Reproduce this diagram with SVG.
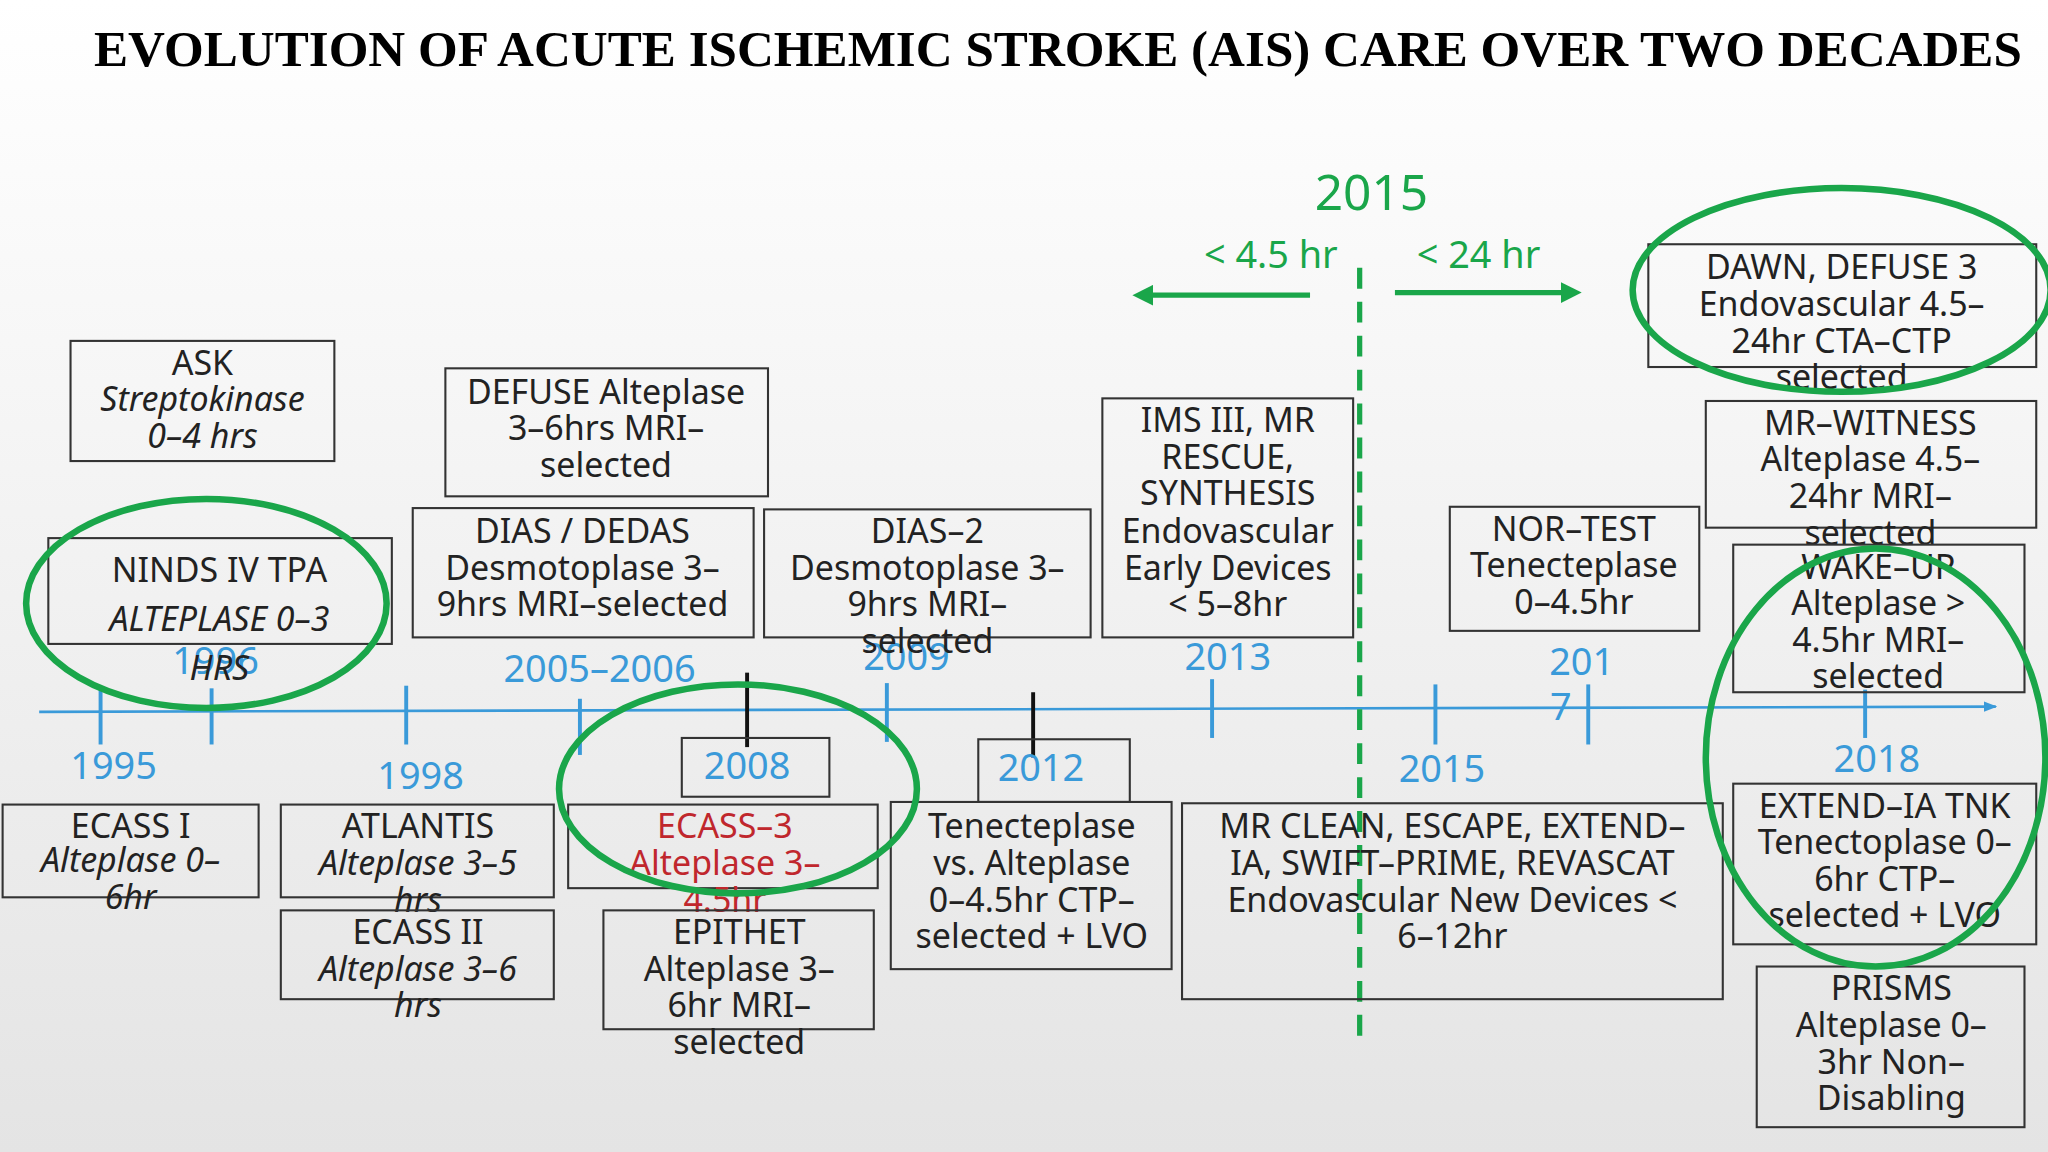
<svg xmlns="http://www.w3.org/2000/svg" width="2048" height="1152" viewBox="0 0 2048 1152">
<defs>
<linearGradient id="bg" x1="0" y1="0" x2="0" y2="1"><stop offset="0" stop-color="#ffffff"/><stop offset="1" stop-color="#e4e4e4"/></linearGradient>
<marker id="ga" markerWidth="4" markerHeight="4" refX="2" refY="2" orient="auto"><path d="M0,0 L4,2 L0,4 z" fill="#1aa64a"/></marker>
<marker id="ba" markerWidth="10" markerHeight="10" refX="9" refY="5" orient="auto" markerUnits="userSpaceOnUse"><path d="M0,1 L10,5 L0,9 z" fill="#3a9ad9"/></marker>
<style>
.b{fill:none;stroke:#333;stroke-width:1.6}
.t{font-family:"Noto Sans",sans-serif;font-size:26px;fill:#222;text-anchor:middle;dominant-baseline:central}
.i{font-style:italic}
.y{font-family:"Noto Sans",sans-serif;font-size:29px;fill:#3a9ad9;text-anchor:middle;dominant-baseline:central}
.g{font-family:"Noto Sans",sans-serif;fill:#1aa64a;text-anchor:middle;dominant-baseline:central}
.e{fill:none;stroke:#1aa64a;stroke-width:5}
.k{stroke:#3a9ad9;stroke-width:3}
.bk{stroke:#111;stroke-width:3}
</style>
</defs>
<rect width="2048" height="1152" fill="url(#bg)"/>
<g transform="scale(1.30612)">
<text x="810" y="38" font-family="Liberation Serif,serif" font-weight="bold" font-size="38" text-anchor="middle" dominant-baseline="central" textLength="1476" lengthAdjust="spacingAndGlyphs">EVOLUTION OF ACUTE ISCHEMIC STROKE (AIS) CARE OVER TWO DECADES</text>
<g id="connectors">
<line x1="30" y1="545" x2="1528" y2="541" stroke="#3a9ad9" stroke-width="2" marker-end="url(#ba)"/>
<line class="k" x1="77" y1="527" x2="77" y2="570"/><line class="k" x1="162" y1="527" x2="162" y2="570"/>
<line class="k" x1="311" y1="525" x2="311" y2="570"/><line class="k" x1="444" y1="535" x2="444" y2="578"/>
<line class="k" x1="679" y1="523" x2="679" y2="568"/><line class="k" x1="928" y1="520" x2="928" y2="565"/>
<line class="k" x1="1099" y1="524" x2="1099" y2="570"/><line class="k" x1="1216" y1="524" x2="1216" y2="570"/>
<line class="k" x1="1428" y1="528" x2="1428" y2="565"/>
<line class="bk" x1="572" y1="515" x2="572" y2="572"/><line class="bk" x1="791" y1="530" x2="791" y2="580"/>
<line x1="1041" y1="205" x2="1041" y2="800" stroke="#1aa64a" stroke-width="4" stroke-dasharray="16,10"/>
<line x1="1003" y1="226" x2="875" y2="226" stroke="#1aa64a" stroke-width="4" marker-end="url(#ga)"/>
<line x1="1068" y1="224" x2="1203" y2="224" stroke="#1aa64a" stroke-width="4" marker-end="url(#ga)"/>
</g>
<text class="g" x="1050" y="146" font-size="38">2015</text>
<text class="g" x="973" y="194" font-size="29">&lt; 4.5 hr</text>
<text class="g" x="1132" y="194" font-size="29">&lt; 24 hr</text>
<g id="ask"><rect class="b" x="54" y="261" width="202" height="92"/><text class="t" x="155" y="277">ASK</text><text class="t i" x="155" y="305">Streptokinase</text><text class="t i" x="155" y="333">0–4 hrs</text></g>
<g id="ninds"><rect class="b" x="37" y="412" width="263" height="81"/><text class="t" x="168" y="436">NINDS IV TPA</text><text class="t i" x="168" y="473">ALTEPLASE 0–3</text><text class="y" x="165" y="505">1996</text><text class="t i" x="168" y="511">HRS</text></g>
<g id="defuse"><rect class="b" x="341" y="282" width="247" height="98"/><text class="t" x="464" y="299">DEFUSE Alteplase</text><text class="t" x="464" y="327">3–6hrs MRI–</text><text class="t" x="464" y="355">selected</text></g>
<g id="dias"><rect class="b" x="316" y="389" width="261" height="99"/><text class="t" x="446" y="406">DIAS / DEDAS</text><text class="t" x="446" y="434">Desmotoplase 3–</text><text class="t" x="446" y="462">9hrs MRI–selected</text></g>
<text class="y" x="459" y="511">2005–2006</text>
<g id="dias2"><rect class="b" x="585" y="390" width="250" height="98"/><text class="t" x="710" y="406">DIAS–2</text><text class="t" x="710" y="434">Desmotoplase 3–</text><text class="t" x="710" y="462">9hrs MRI–</text><text class="y" x="694" y="502">2009</text><text class="t" x="710" y="490">selected</text></g>
<g id="ims"><rect class="b" x="844" y="305" width="192" height="183"/><text class="t" x="940" y="321">IMS III, MR</text><text class="t" x="940" y="349">RESCUE,</text><text class="t" x="940" y="377">SYNTHESIS</text><text class="t" x="940" y="406">Endovascular</text><text class="t" x="940" y="434">Early Devices</text><text class="t" x="940" y="462">&lt; 5–8hr</text></g>
<text class="y" x="940" y="502">2013</text>
<g id="nortest"><rect class="b" x="1110" y="388" width="191" height="95"/><text class="t" x="1205" y="404">NOR–TEST</text><text class="t" x="1205" y="432">Tenecteplase</text><text class="t" x="1205" y="460">0–4.5hr</text></g>
<text class="y" x="1211" y="506">201</text><text class="y" x="1195" y="540">7</text>
<g id="dawn"><rect class="b" x="1262" y="187" width="297" height="94"/><text class="t" x="1410" y="204">DAWN, DEFUSE 3</text><text class="t" x="1410" y="232">Endovascular 4.5–</text><text class="t" x="1410" y="260">24hr CTA–CTP</text><text class="t" x="1410" y="288">selected</text></g>
<g id="mrwitness"><rect class="b" x="1306" y="307" width="253" height="97"/><text class="t" x="1432" y="323">MR–WITNESS</text><text class="t" x="1432" y="351">Alteplase 4.5–</text><text class="t" x="1432" y="379">24hr MRI–</text><text class="t" x="1432" y="407">selected</text></g>
<g id="wakeup"><rect class="b" x="1327" y="417" width="223" height="113"/><text class="t" x="1438" y="433">WAKE–UP</text><text class="t" x="1438" y="461">Alteplase &gt;</text><text class="t" x="1438" y="489">4.5hr MRI–</text><text class="t" x="1438" y="517">selected</text></g>
<text class="y" x="1437" y="580">2018</text>
<g id="extend"><rect class="b" x="1327" y="600" width="232" height="123"/><text class="t" x="1443" y="616">EXTEND–IA TNK</text><text class="t" x="1443" y="644">Tenectoplase 0–</text><text class="t" x="1443" y="672">6hr CTP–</text><text class="t" x="1443" y="700">selected + LVO</text></g>
<g id="prisms"><rect class="b" x="1345" y="740" width="205" height="123"/><text class="t" x="1448" y="756">PRISMS</text><text class="t" x="1448" y="784">Alteplase 0–</text><text class="t" x="1448" y="812">3hr Non–</text><text class="t" x="1448" y="840">Disabling</text></g>
<g id="mrclean"><rect class="b" x="905" y="615" width="414" height="150"/><text class="t" x="1112" y="632">MR CLEAN, ESCAPE, EXTEND–</text><text class="t" x="1112" y="660">IA, SWIFT–PRIME, REVASCAT</text><text class="t" x="1112" y="688">Endovascular New Devices &lt;</text><text class="t" x="1112" y="716">6–12hr</text></g>
<text class="y" x="1104" y="588">2015</text>
<g id="tnk"><rect class="b" x="682" y="614" width="215" height="128"/><text class="t" x="790" y="632">Tenecteplase</text><text class="t" x="790" y="660">vs. Alteplase</text><text class="t" x="790" y="688">0–4.5hr CTP–</text><text class="t" x="790" y="716">selected + LVO</text></g>
<g id="y2012"><rect class="b" x="749" y="566" width="116" height="48"/><text class="y" x="797" y="587">2012</text></g>
<g id="ecass3"><rect class="b" x="435" y="616" width="237" height="64"/><text class="t" x="555" y="632" style="fill:#c0272d">ECASS–3</text><text class="t" x="555" y="660" style="fill:#c0272d">Alteplase 3–</text><text class="t" x="555" y="688" style="fill:#c0272d">4.5hr</text></g>
<g id="y2008"><rect class="b" x="522" y="565" width="113" height="45"/><text class="y" x="572" y="585">2008</text></g>
<g id="epithet"><rect class="b" x="462" y="697" width="207" height="91"/><text class="t" x="566" y="713">EPITHET</text><text class="t" x="566" y="741">Alteplase 3–</text><text class="t" x="566" y="769">6hr MRI–</text><text class="t" x="566" y="797">selected</text></g>
<g id="atlantis"><rect class="b" x="215" y="616" width="209" height="71"/><text class="t" x="320" y="632">ATLANTIS</text><text class="t i" x="320" y="660">Alteplase 3–5</text><text class="t i" x="320" y="688">hrs</text></g>
<text class="y" x="322" y="593">1998</text>
<g id="ecass2"><rect class="b" x="215" y="697" width="209" height="68"/><text class="t" x="320" y="713">ECASS II</text><text class="t i" x="320" y="741">Alteplase 3–6</text><text class="t i" x="320" y="769">hrs</text></g>
<g id="ecass1"><rect class="b" x="2" y="616" width="196" height="71"/><text class="t" x="100" y="632">ECASS I</text><text class="t i" x="100" y="658">Alteplase 0–</text><text class="t i" x="100" y="686">6hr</text></g>
<text class="y" x="87" y="585">1995</text>
<ellipse class="e" cx="158" cy="462" rx="138" ry="80"/>
<ellipse class="e" cx="565" cy="604" rx="137" ry="80"/>
<ellipse class="e" cx="1410" cy="222" rx="160" ry="78"/>
<ellipse class="e" cx="1436" cy="580" rx="130" ry="160"/>
</g>
</svg>
